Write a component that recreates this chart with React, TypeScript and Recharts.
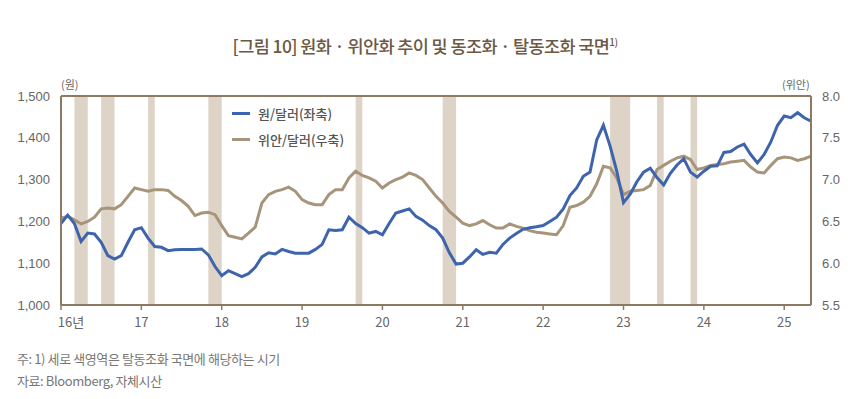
import React from "react";
import {
  LineChart,
  Line,
  XAxis,
  YAxis,
  ReferenceArea,
  ReferenceLine,
  Legend,
} from "recharts";

// monthly, index 0 = Jan 2016
const krwUsd = [
  1195, 1215, 1195, 1152, 1172, 1170, 1150, 1118, 1110, 1118, 1150, 1180,
  1185, 1160, 1140, 1138, 1130, 1132, 1133, 1133, 1133, 1134, 1120, 1092,
  1070, 1082, 1075, 1068, 1075, 1090, 1115, 1125, 1122, 1133, 1128, 1124,
  1124, 1124, 1133, 1145, 1180, 1178, 1180, 1210, 1195, 1185, 1172, 1176,
  1168, 1195, 1220, 1225, 1230, 1212, 1203, 1190, 1180, 1160, 1125, 1098,
  1100, 1115, 1132, 1121, 1126, 1124, 1145, 1160, 1171, 1181, 1185, 1187,
  1190, 1200, 1210, 1230, 1262, 1280, 1308, 1318, 1395, 1430, 1380, 1320,
  1245, 1265, 1295, 1318, 1327, 1305, 1287, 1315, 1335, 1350, 1318, 1306,
  1320, 1332, 1333, 1365, 1367, 1378, 1385, 1360, 1340, 1360, 1390, 1430,
  1452, 1448, 1460, 1448, 1440,
];

const cnyUsd = [
  6.54, 6.56, 6.52, 6.47, 6.5, 6.55, 6.65, 6.66, 6.65, 6.7, 6.8, 6.9,
  6.88, 6.86, 6.88, 6.88, 6.87, 6.8, 6.75, 6.68, 6.57, 6.6, 6.61, 6.58,
  6.45, 6.33, 6.31, 6.29, 6.36, 6.43, 6.72, 6.82, 6.86, 6.88, 6.91, 6.86,
  6.76, 6.72, 6.7, 6.7, 6.82, 6.88, 6.88, 7.02, 7.1, 7.05, 7.02, 6.98,
  6.9, 6.96, 7.0, 7.03, 7.08, 7.05, 7.0, 6.9, 6.8, 6.72, 6.62, 6.55,
  6.48, 6.45, 6.47, 6.51, 6.46, 6.42, 6.42, 6.47, 6.44, 6.42, 6.39, 6.37,
  6.36, 6.35, 6.34, 6.45, 6.67, 6.69, 6.73, 6.8, 6.95, 7.16, 7.14, 7.02,
  6.82, 6.86, 6.87, 6.88, 6.93, 7.12, 7.17, 7.22, 7.26, 7.28, 7.24, 7.12,
  7.14, 7.17, 7.18, 7.19, 7.21, 7.22, 7.23, 7.15, 7.09, 7.08, 7.17, 7.25,
  7.27, 7.26, 7.23, 7.25, 7.28,
];

// decoupling periods (month index start/end)
const decouplingStart = [2, 6, 13, 22, 44, 57, 82, 89, 94];
const decouplingEnd = [4, 8, 14, 24, 45, 59, 85, 90, 95];

const yearTicks = [0, 12, 24, 36, 48, 60, 72, 84, 96, 108];
const yearLabels = ["16년", "17", "18", "19", "20", "21", "22", "23", "24", "25"];

const leftTicks = [1000, 1100, 1200, 1300, 1400, 1500];
const rightTicks = [5.5, 6.0, 6.5, 7.0, 7.5, 8.0];

const data = krwUsd.map((v, i) => ({ m: i, krw: v, cny: cnyUsd[i] }));

const BLUE = "#3e64ad";
const TAUPE = "#a7957b";
const AXIS = "#8c7b62";
const BAND = "#ddd4c7";
const TEXT = "#666";
const numFont = "'Liberation Sans', Arial, sans-serif";
const krFont = "'Noto Sans CJK KR', sans-serif";

function YearTick(props: any) {
  const { x, y, payload } = props;
  const idx = yearTicks.indexOf(payload.value);
  const label = yearLabels[idx] ?? "";
  return (
    <text
      x={idx === 0 ? x + 10 : x}
      y={y + 15}
      textAnchor="middle"
      fontSize={13}
      fill={TEXT}
      fontFamily={krFont}
    >
      {label}
    </text>
  );
}

function LegendBox() {
  const rows = [
    { c: BLUE, t: "원/달러(좌축)" },
    { c: TAUPE, t: "위안/달러(우축)" },
  ];
  return (
    <div style={{ fontFamily: krFont }}>
      {rows.map((r) => (
        <div key={r.t} style={{ display: "flex", alignItems: "center", height: 26 }}>
          <span style={{ width: 18, height: 3, background: r.c, marginRight: 8 }} />
          <span style={{ fontSize: 13, color: "#555", fontWeight: 500 }}>{r.t}</span>
        </div>
      ))}
    </div>
  );
}

export default function App() {
  return (
    <div style={{ position: "absolute", left: 0, top: 0, width: 860, height: 399, background: "#fff" }}>
      <div
        style={{
          position: "absolute",
          top: 33,
          left: 0,
          width: 850,
          textAlign: "center",
          fontFamily: krFont,
          fontSize: 17.5,
          fontWeight: 500,
          color: "#6b5944",
          letterSpacing: -0.6,
        }}
      >
        [그림 10] 원화 · 위안화 추이 및 동조화 · 탈동조화 국면<sup style={{ fontSize: 10 }}>1)</sup>
      </div>
      <div style={{ position: "absolute", top: 76, left: 61, fontFamily: krFont, fontSize: 11, color: TEXT }}>(원)</div>
      <div style={{ position: "absolute", top: 76, left: 782, fontFamily: krFont, fontSize: 11, color: TEXT }}>(위안)</div>

      <LineChart
        width={860}
        height={399}
        data={data}
        margin={{ top: 96, right: 0, left: 0, bottom: 64 }}
      >
        <XAxis
          dataKey="m"
          type="number"
          domain={[0, 112]}
          ticks={yearTicks}
          tick={<YearTick />}
          tickSize={5}
          axisLine={{ stroke: AXIS, strokeWidth: 2 }}
          tickLine={{ stroke: AXIS, strokeWidth: 1.5 }}
          height={30}
          allowDataOverflow
        />
        <YAxis
          yAxisId="left"
          domain={[1000, 1500]}
          ticks={leftTicks}
          width={61}
          tickLine={false}
          tickMargin={5}
          axisLine={{ stroke: AXIS, strokeWidth: 2 }}
          tick={{ fontSize: 13, fill: TEXT, fontFamily: numFont }}
          tickFormatter={(v: number) => v.toLocaleString("en-US")}
        />
        <YAxis
          yAxisId="right"
          orientation="right"
          domain={[5.5, 8]}
          ticks={rightTicks}
          width={49}
          tickLine={false}
          tickMargin={5}
          axisLine={{ stroke: AXIS, strokeWidth: 2 }}
          tick={{ fontSize: 13, fill: TEXT, fontFamily: numFont }}
          tickFormatter={(v: number) => v.toFixed(1)}
        />
        {decouplingStart.map((s, i) => (
          <ReferenceArea
            key={i}
            yAxisId="left"
            x1={s}
            x2={decouplingEnd[i]}
            y1={1000}
            y2={1500}
            fill={BAND}
            fillOpacity={1}
            stroke="none"
          />
        ))}
        <ReferenceLine yAxisId="left" y={1500} stroke={AXIS} strokeWidth={2} />
        <Legend
          layout="vertical"
          align="center"
          verticalAlign="middle"
          wrapperStyle={{ top: 100, left: 232, width: 140 }}
          content={() => <LegendBox />}
        />
        <Line
          yAxisId="right"
          dataKey="cny"
          stroke={TAUPE}
          strokeWidth={3}
          dot={false}
          isAnimationActive={false}
        />
        <Line
          yAxisId="left"
          dataKey="krw"
          stroke={BLUE}
          strokeWidth={3}
          dot={false}
          isAnimationActive={false}
        />
      </LineChart>

      <div style={{ position: "absolute", top: 349, left: 17, fontFamily: krFont, fontSize: 13, color: "#777", letterSpacing: -0.4 }}>
        주: 1) 세로 색영역은 탈동조화 국면에 해당하는 시기
      </div>
      <div style={{ position: "absolute", top: 371, left: 17, fontFamily: krFont, fontSize: 13, color: "#777", letterSpacing: -0.4 }}>
        자료: Bloomberg, 자체시산
      </div>
    </div>
  );
}
